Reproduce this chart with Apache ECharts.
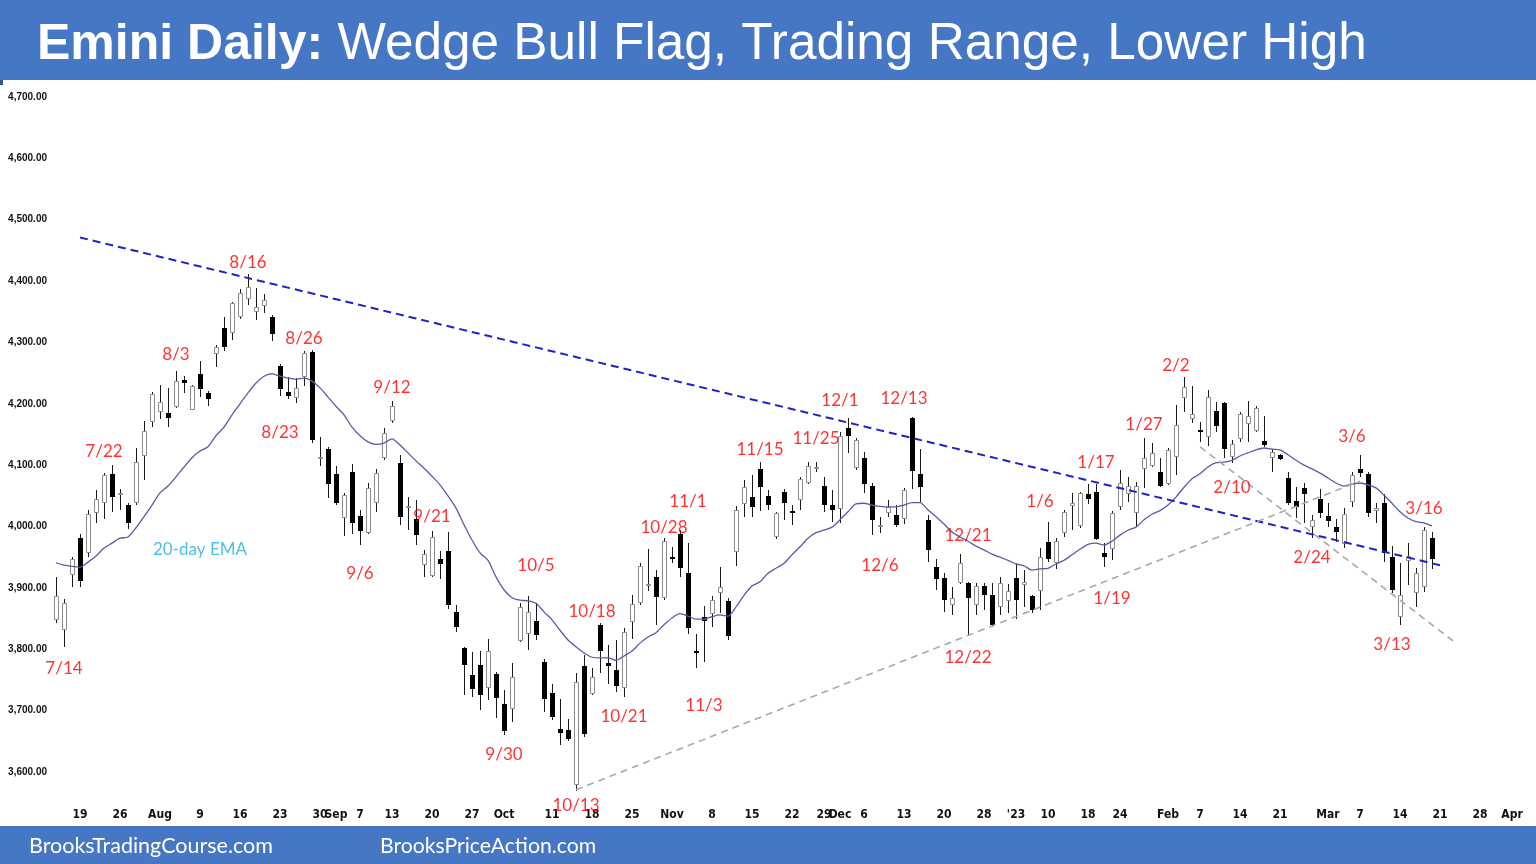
<!DOCTYPE html>
<html><head><meta charset="utf-8">
<script src="https://cdn.jsdelivr.net/npm/echarts@6/dist/echarts.min.js"></script>
<style>html,body{margin:0;padding:0;background:#fff;overflow:hidden}#c{width:1536px;height:864px}</style>
</head><body><div id="c"></div>
<script>
// ---- calendar (category axis) ----
const startDate = '2022-07-13';
const axisEndDate = '2023-04-04';
const holidays = ['2022-09-05','2022-11-24','2022-12-26','2023-01-02','2023-01-16'];

// ---- daily OHLC, Jul 13 2022 .. Mar 17 2023 ----
const opens = [3848,3831,3921,3981,3957,4022,4038,4086,4052,4035,4038,4115,4170,4187,4185,4195,4239,4190,4248,4218,
4281,4324,4315,4341,4371,4350,4360,4341,4262,4219,4210,4244,4284,4110,4126,4086,4014,4089,4017,3990,
4038,4112,4172,4104,4031,4012,3937,3920,3947,3960,3861,3802,3758,3774,3737,3760,3711,3703,3813,3825,
3846,3779,3729,3670,3668,3579,3773,3727,3840,3778,3766,3737,3845,3875,3903,3918,3884,3950,3988,3924,
3797,3853,3858,3892,3879,3959,4036,4048,4094,4050,3983,4056,4025,4043,4071,4094,4066,4035,4029,4161,
4095,4112,4066,3999,4022,4019,4012,4177,4086,4011,3934,3916,3872,3908,3908,3872,3903,3888,3869,3879,
3916,3905,3887,3895,3975,3940,3990,4033,4001,4053,4056,3957,3963,4032,4053,4022,4094,4099,4089,4069,
4113,4209,4175,4158,4146,4188,4201,4113,4143,4167,4156,4139,4112,4117,4079,4042,4063,4000,4045,4017,
4000,3972,4040,4094,4086,4025,4038,3950,3853,3944,3892,3902,3981];
const highs = [3918,3882,3950,3988,4027,4060,4087,4100,4061,4038,4128,4172,4219,4231,4226,4254,4245,4231,4270,4221,
4296,4341,4366,4387,4411,4389,4379,4345,4265,4244,4242,4286,4288,4146,4130,4099,4055,4102,4027,4071,
4094,4161,4205,4117,4048,4043,3962,3993,3960,3991,3872,3803,3796,3797,3817,3763,3734,3777,3875,3887,
3875,3784,3743,3719,3686,3761,3791,3769,3843,3807,3815,3835,3889,3941,3963,3929,3981,3967,3994,3973,
3825,3871,3887,3934,3883,4034,4076,4084,4105,4060,4024,4061,4035,4081,4105,4105,4081,4060,4154,4177,
4144,4121,4071,4016,4043,4035,4063,4179,4126,4019,3947,3924,3902,3955,3910,3908,3908,3908,3918,3906,
3939,3929,3888,3965,4008,3981,4027,4055,4056,4069,4069,3973,4025,4092,4081,4073,4144,4136,4112,4128,
4198,4244,4229,4170,4223,4203,4203,4141,4187,4205,4197,4180,4126,4118,4089,4064,4071,4019,4061,4038,
4012,4030,4089,4117,4089,4038,4053,3968,3940,3973,3932,4000,3991];
const lows = [3843,3804,3902,3902,3950,4006,4012,4024,4027,3996,4035,4076,4162,4175,4162,4193,4218,4190,4211,4197,
4260,4286,4304,4338,4361,4337,4348,4302,4213,4208,4201,4229,4136,4099,4046,4035,3985,3988,3970,3988,
4024,4108,4169,4003,3994,3970,3918,3918,3915,3866,3828,3725,3722,3701,3717,3688,3660,3681,3812,3799,
3815,3698,3685,3644,3651,3569,3657,3725,3761,3743,3730,3722,3817,3872,3895,3840,3880,3940,3918,3825,
3769,3779,3836,3859,3815,3936,4016,4016,4025,4027,3980,4011,4003,4027,4069,4089,4024,4008,4006,4120,
4092,4055,3986,3990,4016,4000,4004,4061,4040,3942,3897,3861,3856,3906,3822,3856,3864,3836,3856,3859,
3849,3869,3859,3864,3942,3931,3983,3994,3998,4037,3978,3934,3945,4027,4040,3999,4063,4097,4064,4068,
4084,4187,4169,4138,4131,4154,4112,4104,4138,4138,4154,4130,4089,4108,4035,4014,4006,3981,4014,3999,
3975,3965,4032,4081,4016,4006,3942,3892,3840,3905,3869,3893,3931];
const closes = [3887,3875,3947,3912,4021,4045,4084,4048,4054,4006,4105,4156,4216,4203,4177,4237,4234,4229,4224,4208,
4293,4293,4364,4381,4390,4358,4369,4314,4224,4213,4226,4283,4141,4113,4069,4038,4051,4006,3993,4063,
4087,4152,4196,4016,4033,3987,3955,3983,3939,3872,3837,3774,3735,3725,3797,3721,3667,3755,3869,3861,
3823,3719,3690,3664,3654,3747,3662,3755,3797,3773,3740,3828,3874,3936,3907,3885,3976,3948,3933,3835,
3794,3846,3880,3902,3822,4027,4064,4032,4064,4035,4022,4038,4024,4077,4099,4097,4035,4027,4147,4148,
4141,4069,4011,4002,4032,4003,4060,4091,4064,3962,3914,3880,3884,3940,3884,3903,3888,3840,3908,3895,
3880,3910,3864,3950,3947,3976,4024,4038,4055,4045,3980,3950,4022,4071,4066,4066,4112,4120,4066,4125,
4166,4227,4183,4156,4211,4164,4126,4135,4183,4180,4193,4133,4121,4110,4038,4032,4053,4011,4022,4009,
3991,4020,4084,4087,4022,4030,3957,3897,3888,3952,3924,3994,3947];

// ---- 20-day EMA as drawn on the picture ----
const ema20 = [3941,3937,3935,3934,3942,3952,3965,3973,3981,3983,3998,4016,4035,4055,4066,4081,4097,4112,4123,4130,
4148,4162,4182,4200,4218,4234,4245,4249,4245,4242,4240,4242,4237,4226,4211,4196,4182,4162,4148,4138,
4134,4136,4143,4133,4120,4107,4095,4082,4068,4050,4030,4003,3978,3957,3945,3918,3897,3884,3880,3879,
3875,3861,3848,3831,3815,3804,3794,3787,3786,3786,3782,3789,3797,3810,3820,3827,3840,3851,3858,3854,
3849,3849,3853,3856,3854,3869,3888,3903,3910,3924,3932,3940,3954,3967,3981,3990,3994,3999,4011,4024,
4037,4038,4035,4033,4032,4032,4035,4039,4039,4027,4016,4004,3991,3983,3976,3968,3962,3955,3950,3945,
3939,3936,3929,3931,3932,3939,3945,3954,3963,3971,3973,3970,3976,3986,3994,3999,4011,4020,4026,4035,
4048,4064,4078,4086,4097,4104,4105,4108,4115,4120,4125,4128,4126,4125,4117,4108,4100,4094,4087,4079,
4071,4066,4069,4071,4068,4063,4051,4038,4024,4014,4008,4006,4001];

// ---- trend lines [date, price] ----
const bearTrendLine = [['2022-07-18', 4471], ['2023-03-20', 3937]];
const bullTrendLine = [['2022-10-13', 3571], ['2023-03-06', 4074]];
const channelLine   = [['2023-02-06', 4130], ['2023-03-22', 3810]];

// ---- swing labels [text, date, price] ----
const swingLabels = [
 ['7/14','2022-07-14',3768],['7/22','2022-07-21',4123],['8/3','2022-08-03',4281],['8/16','2022-08-16',4431],
 ['8/23','2022-08-22',4154],['8/26','2022-08-25',4307],['9/6','2022-09-06',3924],['9/12','2022-09-12',4227],
 ['9/21','2022-09-19',4017],['9/30','2022-09-30',3629],['10/5','2022-10-06',3937],['10/13','2022-10-13',3546],
 ['10/18','2022-10-17',3862],['10/21','2022-10-21',3690],['10/28','2022-10-28',3998],['11/1','2022-11-02',4040],
 ['11/3','2022-11-04',3709],['11/15','2022-11-15',4125],['11/25','2022-11-25',4143],['12/1','2022-11-30',4205],
 ['12/6','2022-12-07',3937],['12/13','2022-12-12',4208],['12/21','2022-12-22',3986],['12/22','2022-12-22',3786],
 ['1/6','2023-01-06',4040],['1/17','2023-01-18',4104],['1/19','2023-01-20',3882],['1/27','2023-01-26',4167],
 ['2/2','2023-02-01',4263],['2/10','2023-02-10',4064],['2/24','2023-02-24',3950],['3/6','2023-03-03',4146],
 ['3/13','2023-03-10',3807],['3/16','2023-03-16',4029]
];
const emaLabel = [['20-day EMA','2022-08-08',3962]];

// ---- x tick labels: [category where drawn, text] ----
const tickDates = ['2022-07-18','2022-07-25','2022-08-01','2022-08-08','2022-08-15','2022-08-22','2022-08-29','2022-08-31',
 '2022-09-06','2022-09-12','2022-09-19','2022-09-26','2022-09-30','2022-10-10','2022-10-17','2022-10-24','2022-10-31',
 '2022-11-07','2022-11-14','2022-11-21','2022-11-28','2022-11-30','2022-12-05','2022-12-12','2022-12-19','2022-12-27',
 '2023-01-03','2023-01-09','2023-01-17','2023-01-23','2023-01-31','2023-02-06','2023-02-13','2023-02-20','2023-02-28',
 '2023-03-06','2023-03-13','2023-03-20','2023-03-27','2023-03-31'];
const tickTexts = ['19','26','Aug','9','16','23','30','Sep','7','13','20','27','Oct','11','18','25','Nov','8','15','22','29','Dec',
 '6','13','20','28',"'23",'10','18','24','Feb','7','14','21','Mar','7','14','21','28','Apr'];

const titleBold = 'Emini Daily:';
const titleRest = ' Wedge Bull Flag, Trading Range, Lower High';
const footerLeft = 'BrooksTradingCourse.com';
const footerRight = 'BrooksPriceAction.com';

// ---- build ----
function buildDates() {
  const out = [];
  let t = Date.parse(startDate + 'T00:00:00Z');
  const end = Date.parse(axisEndDate + 'T00:00:00Z');
  while (t <= end) {
    const d = new Date(t);
    const wd = d.getUTCDay();
    const s = d.toISOString().slice(0, 10);
    if (wd !== 0 && wd !== 6 && holidays.indexOf(s) < 0) out.push(s);
    t += 86400000;
  }
  return out;
}
const dates = buildDates();
const tickMap = {};
tickDates.forEach((d, i) => { tickMap[d] = tickTexts[i]; });

const candleData = opens.map((o, i) => [i, o, closes[i], lows[i], highs[i]]);
const emaData = ema20.map((v, i) => [dates[i], v]);

function renderCandle(params, api) {
  const i = api.value(0);
  const o = api.value(1), c = api.value(2), l = api.value(3), h = api.value(4);
  const pO = api.coord([i, o]), pC = api.coord([i, c]), pL = api.coord([i, l]), pH = api.coord([i, h]);
  const cx = Math.round(pO[0]);
  const up = c >= o;
  let top = Math.round(Math.min(pO[1], pC[1]));
  let bot = Math.round(Math.max(pO[1], pC[1]));
  if (bot - top < 2) bot = top + 2;
  const children = [{
    type: 'line',
    shape: { x1: cx + 0.5, y1: Math.round(pH[1]), x2: cx + 0.5, y2: Math.round(pL[1]) },
    style: { stroke: '#1a1a1a', lineWidth: 1 }
  }];
  if (up) {
    children.push({ type: 'rect', shape: { x: cx - 2 + 0.5, y: top + 0.5, width: 4, height: bot - top - 1 },
      style: { fill: '#ffffff', stroke: '#8c8c8c', lineWidth: 1 } });
  } else {
    children.push({ type: 'rect', shape: { x: cx - 2, y: top, width: 5, height: bot - top },
      style: { fill: '#000000' } });
  }
  return { type: 'group', children: children };
}

const chart = echarts.init(document.getElementById('c'), null, { renderer: 'canvas' });
const BLUE = '#4677C4';
const labelFont = 'Lato, "Open Sans", sans-serif';
const titleFamily = '"Liberation Sans", Arial, sans-serif';

chart.setOption({
  animation: false,
  backgroundColor: '#ffffff',
  grid: { left: 52, right: 4, top: 97, bottom: 92, containLabel: false },
  xAxis: {
    type: 'category',
    data: dates,
    boundaryGap: true,
    axisLine: { show: false },
    axisTick: { show: false },
    splitLine: { show: false },
    axisLabel: {
      margin: 37,
      interval: (idx, val) => tickMap[val] !== undefined,
      formatter: (val) => tickMap[val] || '',
      color: '#111',
      fontWeight: 'bold',
      fontSize: 12,
      fontFamily: '"Liberation Sans Narrow", "Arial Narrow", "DejaVu Sans Condensed", sans-serif'
    }
  },
  yAxis: {
    type: 'value',
    min: 3600, max: 4700, interval: 100,
    axisLine: { show: false },
    axisTick: { show: false },
    splitLine: { show: false },
    axisLabel: {
      margin: 5,
      color: '#111',
      fontWeight: 'bold',
      fontSize: 10,
      fontFamily: '"Liberation Sans", Arial, sans-serif',
      formatter: (v) => String(v).replace(/\B(?=(\d{3})+(?!\d))/g, ',') + '.00'
    }
  },
  series: [
    { type: 'custom', name: 'candles', renderItem: renderCandle, data: candleData,
      encode: { x: 0, y: [1, 2, 3, 4] }, clip: false, z: 3 },
    { type: 'line', name: 'EMA20', data: emaData, symbol: 'none', smooth: 0.25, clip: false,
      lineStyle: { color: '#5a5aa6', width: 1.3 }, z: 4, silent: true },
    { type: 'line', name: 'bearTrend', data: bearTrendLine, symbol: 'none', clip: false,
      lineStyle: { color: '#1f22c6', width: 2, type: [8, 5] }, z: 5, silent: true },
    { type: 'line', name: 'bullTrend', data: bullTrendLine, symbol: 'none', clip: false,
      lineStyle: { color: '#a8a8a8', width: 1.6, type: [7, 5] }, z: 5, silent: true },
    { type: 'line', name: 'channel', data: channelLine, symbol: 'none', clip: false,
      lineStyle: { color: '#a8a8a8', width: 1.6, type: [7, 5] }, z: 5, silent: true },
    { type: 'scatter', name: 'swings', data: swingLabels.map(a => [a[1], a[2], a[0]]),
      symbolSize: 1, itemStyle: { color: 'rgba(0,0,0,0)' }, clip: false, z: 6, silent: true,
      label: { show: true, position: 'inside', formatter: p => p.value[2], color: '#ff0000',
        fontSize: 17, fontFamily: labelFont } },
    { type: 'scatter', name: 'emaLabel', data: emaLabel.map(a => [a[1], a[2], a[0]]),
      symbolSize: 1, itemStyle: { color: 'rgba(0,0,0,0)' }, clip: false, z: 6, silent: true,
      label: { show: true, position: 'inside', formatter: p => p.value[2], color: '#21aee6',
        fontSize: 17, fontFamily: labelFont } }
  ],
  graphic: [
    { type: 'rect', left: 0, top: 0, shape: { width: 1536, height: 80 }, style: { fill: BLUE }, z: 10 },
    { type: 'rect', left: 0, top: 80, shape: { width: 3, height: 5 }, style: { fill: '#2f5597' }, z: 10 },
    { type: 'text', x: 37, y: 45, z: 11,
      style: { text: '{b|' + titleBold + '}{r|' + titleRest + '}', fill: '#ffffff',
        font: '51px ' + titleFamily, verticalAlign: 'middle', align: 'left',
        rich: {
          b: { fontWeight: 'bold', fontSize: 50, fontFamily: titleFamily, fill: '#ffffff' },
          r: { fontWeight: 'normal', fontSize: 51.3, fontFamily: titleFamily, fill: '#ffffff' }
        } } },
    { type: 'rect', left: 0, top: 826, shape: { width: 1536, height: 38 }, style: { fill: BLUE }, z: 10 },
    { type: 'text', x: 29, y: 846, z: 11,
      style: { text: footerLeft, fill: '#ffffff', font: '21.5px Lato, "Open Sans", sans-serif', verticalAlign: 'middle' } },
    { type: 'text', x: 380, y: 846, z: 11,
      style: { text: footerRight, fill: '#ffffff', font: '21.2px Lato, "Open Sans", sans-serif', verticalAlign: 'middle' } }
  ]
});
</script>
</body></html>
